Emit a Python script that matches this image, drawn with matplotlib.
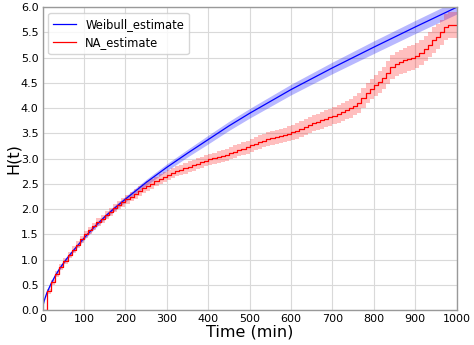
import numpy as np
import matplotlib
matplotlib.use("Agg")
import matplotlib.pyplot as plt

# Weibull fit
wb_t = [0, 2, 5, 10, 20, 30, 40, 50, 60, 75, 100, 125, 150, 175, 200, 250, 300,
        350, 400, 450, 500, 600, 700, 800, 900, 1000]
wb_h = [0, 0.13, 0.22, 0.34, 0.52, 0.675, 0.81, 0.93, 1.04, 1.19, 1.43, 1.65, 1.85,
        2.03, 2.2, 2.53, 2.83, 3.11, 3.38, 3.65, 3.9, 4.37, 4.8, 5.21, 5.61, 6.0]
wb_ci = [0, 0.005, 0.01, 0.015, 0.02, 0.02, 0.025, 0.025, 0.03, 0.03, 0.035, 0.04, 0.045,
         0.05, 0.055, 0.06, 0.07, 0.075, 0.085, 0.09, 0.095, 0.105, 0.115, 0.125, 0.13, 0.135]

# Nelson-Aalen estimate, step every 10 min
na_t = list(range(0, 1001, 10))
na_h = [0.0, 0.37, 0.55, 0.72, 0.86, 0.98, 1.1, 1.2, 1.3, 1.4, 1.5,
        1.58, 1.66, 1.74, 1.81, 1.88, 1.95, 2.02, 2.08, 2.14, 2.2,
        2.25, 2.3, 2.36, 2.41, 2.46, 2.5, 2.55, 2.6, 2.64, 2.68,
        2.72, 2.75, 2.78, 2.81, 2.84, 2.87, 2.9, 2.93, 2.96, 2.99,
        3.01, 3.03, 3.06, 3.08, 3.11, 3.14, 3.17, 3.2, 3.23, 3.27,
        3.3, 3.33, 3.36, 3.39, 3.41, 3.43, 3.45, 3.47, 3.49, 3.52,
        3.55, 3.59, 3.63, 3.67, 3.7, 3.73, 3.76, 3.79, 3.82, 3.85,
        3.88, 3.92, 3.96, 4.0, 4.05, 4.1, 4.2, 4.3, 4.38, 4.45,
        4.52, 4.6, 4.7, 4.82, 4.88, 4.92, 4.95, 4.98, 5.0, 5.04,
        5.1, 5.18, 5.26, 5.35, 5.42, 5.5, 5.6, 5.65, 5.65, 5.65]
na_ci_t = [0, 10, 100, 200, 300, 400, 500, 600, 700, 800, 850, 900, 1000]
na_ci_w = [0, 0.05, 0.07, 0.09, 0.1, 0.11, 0.13, 0.15, 0.17, 0.21, 0.24, 0.25, 0.26]

na_t = np.array(na_t)
na_h = np.array(na_h)
na_w = np.interp(na_t, na_ci_t, na_ci_w)
wb_h = np.array(wb_h)
wb_ci = np.array(wb_ci)

fig = plt.figure(figsize=(4.74, 3.45), dpi=100)
ax = fig.add_axes([0.090, 0.101, 0.8735, 0.878])

ax.fill_between(wb_t, wb_h - wb_ci, wb_h + wb_ci, color="blue", alpha=0.28, lw=0)
ax.plot(wb_t, wb_h, color="blue", lw=0.9, label="Weibull_estimate")

ax.fill_between(na_t, na_h - na_w, na_h + na_w, step="post", color="red", alpha=0.25, lw=0)
ax.step(na_t, na_h, where="post", color="red", lw=0.9, label="NA_estimate")

ax.set_xlim(0, 1000)
ax.set_ylim(0, 6)
ax.set_xticks(np.arange(0, 1001, 100))
ax.set_yticks(np.arange(0, 6.01, 0.5))
ax.tick_params(length=0, labelsize=8, pad=3)
ax.grid(color="#d9d9d9", lw=0.8)
ax.set_axisbelow(True)
for s in ax.spines.values():
    s.set_color("#999999")
    s.set_linewidth(1)

ax.set_xlabel("Time (min)", fontsize=11.5)
ax.set_ylabel("H(t)", fontsize=11.5)
ax.xaxis.set_label_coords(0.5, -0.046)
ax.yaxis.set_label_coords(-0.052, 0.5)
ax.legend(loc="upper left", fontsize=8.3, frameon=True, framealpha=0.8, handlelength=2)

fig.savefig("out.png", dpi=100)
